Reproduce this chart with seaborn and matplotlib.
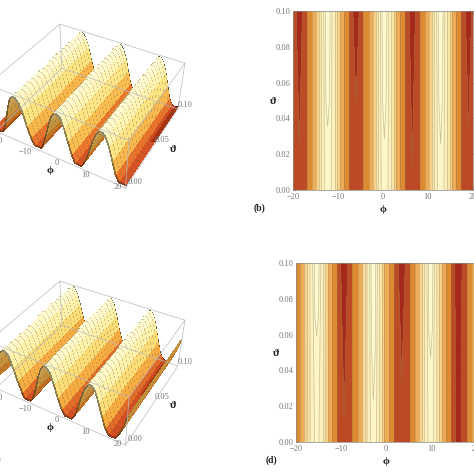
import numpy as np
import matplotlib
matplotlib.use('Agg')
import matplotlib.pyplot as plt
import seaborn as sns
from matplotlib.colors import ListedColormap, BoundaryNorm

sns.set_theme(style='ticks')
plt.rcParams['font.family'] = ['Liberation Serif', 'DejaVu Serif']

phi_b = [-20, -19.6, -18.6, -17.6, -16.6, -15.6, -14.6, -13.6, -12.7, -12.3, -11.9, -11, -10, -9, -8, -7, -6, -5, -4, -3, -2, -1, -0.1, 0.3, 0.7, 1.6, 2.5, 3.5, 4.5, 5.5, 6.5, 7.5, 8.5, 9.5, 10.5, 11.5, 12.4, 12.8, 13.2, 14, 15, 16, 17, 18, 19, 20]
z_b_bottom = [.11, .058, .056, .058, .2, .42, .68, .88, .955, .959, .955, .9, .72, .44, .2, .058, .068, .058, .2, .42, .68, .88, .955, .962, .955, .9, .74, .48, .22, .058, .053, .058, .2, .42, .68, .88, .955, .963, .955, .9, .72, .46, .2, .058, .06, .058]
z_b_top = [.11, .058, .03, .058, .2, .42, .68, .88, .985, .99, .985, .9, .72, .44, .2, .058, .03, .058, .2, .42, .68, .88, .985, .99, .985, .9, .74, .48, .22, .058, .03, .058, .2, .42, .68, .88, .985, .99, .985, .9, .72, .46, .2, .058, .03, .058]

phi_d = [-20, -19, -18, -17, -15.8, -15.4, -15, -14, -13, -12, -11, -10.3, -9.3, -8.3, -7.3, -6.3, -5.3, -4.3, -3.2, -2.8, -2.4, -1.5, -0.5, 0.5, 1.5, 2.5, 3.5, 4.5, 5.5, 6.5, 7.5, 8.5, 9.5, 9.9, 10.3, 11.2, 12.2, 13.2, 14.2, 15.1, 16.1, 17.1, 18.1, 19.1, 20]
z_d_bottom = [.2, .42, .68, .85, .935, .941, .935, .88, .66, .4, .17, .055, .053, .055, .17, .38, .64, .85, .955, .964, .955, .88, .66, .4, .17, .055, .06, .055, .17, .38, .64, .85, .945, .952, .945, .88, .66, .4, .17, .055, .04, .055, .17, .38, .62]
z_d_top = [.2, .42, .68, .85, .985, .99, .985, .88, .66, .4, .17, .055, .03, .055, .17, .38, .64, .85, .985, .99, .985, .88, .66, .4, .17, .055, .03, .055, .17, .38, .64, .85, .985, .99, .985, .88, .66, .4, .17, .055, .03, .055, .17, .38, .62]

theta_rows = [0.0, 0.1]
contour_levels = [.05, .15, .38, .62, .76, .86, .93, .97]
contour_colors = ['#a5281a', '#bc4a24', '#dd8a30', '#eeac58', '#f7d288', '#fae6a8', '#fcf0bc', '#fdf6c6', '#fef9cf']
phi_ticks = [-20, -10, 0, 10, 20]
theta_ticks = [0.0, 0.02, 0.04, 0.06, 0.08, 0.1]
mesh_thetas = [0.0, 0.005, 0.01, 0.015, 0.02, 0.025, 0.03, 0.035, 0.04, 0.045, 0.05, 0.055, 0.06, 0.065, 0.07, 0.075, 0.08, 0.085, 0.09, 0.095, 0.0992]

W = 474
fig = plt.figure(figsize=(4.74, 4.74), dpi=100)
grey = '#777777'
surf_cmap = sns.blend_palette(['#c8381c', '#ee7a2c', '#f8ae44', '#fbd060', '#fde27e', '#feee9c', '#fff6bc', '#fffbd8'], as_cmap=True)


def put(x, y, s, **kw):
    # x, y in pixels from the top left of the picture
    kw.setdefault('ha', 'center')
    kw.setdefault('va', 'center')
    kw.setdefault('fontsize', 6)
    kw.setdefault('color', grey)
    fig.text(x / W, 1 - y / W, s, **kw)


def flat_panel(left, top, phi, z0, z1, tag, tag_x):
    ax = fig.add_axes([left / W, 1 - (top + 179) / W, 180 / W, 179 / W])
    Z = np.array([z0, z1])
    cmap = ListedColormap(contour_colors)
    lv = [-1] + contour_levels + [2]
    ax.contourf(phi, theta_rows, Z, levels=lv, cmap=cmap, norm=BoundaryNorm(lv, cmap.N))
    ax.contour(phi, theta_rows, Z, levels=contour_levels, colors='#8a7a50', linewidths=0.5, alpha=0.45)
    ax.set_xlim(-20, 20)
    ax.set_ylim(0, 0.1)
    ax.set_xticks(phi_ticks)
    ax.set_yticks(theta_ticks)
    ax.set_yticklabels(['%.2f' % t for t in theta_ticks])
    ax.tick_params(direction='in', length=2, width=0.4, color='#666666', labelcolor=grey, labelsize=6, pad=2, top=True, right=True)
    for s in ax.spines.values():
        s.set_linewidth(0.5)
        s.set_color('#888888')
    put(left + 90, top + 199, 'ϕ', fontsize=8, color='#222222', fontweight='bold')
    put(left - 20, top + 90, 'ϑ', fontsize=8, color='#222222', fontweight='bold')
    put(tag_x, top + 197, tag, fontsize=7, color='#222222', fontweight='bold')
    return ax


def surface_panel(cy, phi, z0, z1):
    ax = fig.add_axes([(85 - 160) / W, 1 - (cy + 160) / W, 320 / W, 320 / W], projection='3d')
    ax.set_proj_type('persp', focal_length=0.28)
    ax.view_init(elev=40, azim=-60)
    ax.set_box_aspect((136, 115, 56), zoom=0.61)
    ax.set_axis_off()
    ax.patch.set_alpha(0)

    phi = np.array(phi)
    z0 = np.array(z0)
    z1 = np.array(z1)
    rows = []
    for m in mesh_thetas:
        rows += [m, m + 0.0007]
    rows = np.array(rows)
    Phi, Th = np.meshgrid(phi, rows)
    Z = np.where(Th < 0.05, z0, z1)

    mid = (Z[:, :-1] + Z[:, 1:]) / 2
    slope = np.diff(Z, axis=1) / np.diff(phi)
    cols = surf_cmap(mid)
    back = slope > 0.02
    # slopes turned away from the viewer are browner
    cols[..., 0] = np.where(back, cols[..., 0] * 0.78, cols[..., 0])
    cols[..., 1] = np.where(back, cols[..., 1] * 0.66, cols[..., 1])
    cols[..., 2] = np.where(back, cols[..., 2] * 0.5, cols[..., 2])
    # every second row is a thin mesh line
    line = np.arange(Z.shape[0]) % 2 == 0
    cols[line, :, :3] = cols[line, :, :3] * 0.7 + np.array([.38, .36, .28]) * 0.3
    cols[0, :, :3] *= 0.7
    cols[-2, :, :3] *= 0.5
    fc = np.ones(Z.shape + (4,))
    fc[:, :-1] = cols
    ax.plot_surface(Phi, Th, Z, facecolors=fc, rstride=1, cstride=1, shade=False, linewidth=0, antialiased=False)

    # bounding box
    xs, ys, zs = (-20, 20), (0, 0.1), (0, 1.02)
    for a in xs:
        for b in ys:
            ax.plot([a, a], [b, b], zs, color='#bbbbbb', lw=0.5)
    for a in xs:
        for c in zs:
            ax.plot([a, a], ys, [c, c], color='#bbbbbb', lw=0.5)
    for b in ys:
        for c in zs:
            ax.plot(xs, [b, b], [c, c], color='#bbbbbb', lw=0.5)
    ax.set_xlim(-20, 20)
    ax.set_ylim(0, 0.1)
    ax.set_zlim(0, 1.02)
    return ax


surface_panel(102, phi_b, z_b_bottom, z_b_top)
surface_panel(359, phi_d, z_d_bottom, z_d_top)

flat_panel(293, 11, phi_b, z_b_bottom, z_b_top, '(b)', 259)
flat_panel(296, 263, phi_d, z_d_bottom, z_d_top, '(d)', 271)

for dy in (0, 257):
    put(0, 141 + dy, '0')
    put(25, 152 + dy, '−10')
    put(57, 163 + dy, '0')
    put(85, 175 + dy, '10')
    put(118, 187 + dy, '20')
    put(135, 182 + dy, '0.00')
    put(162, 140 + dy, '0.05')
    put(185, 105 + dy, '0.10')
    put(50, 171 + dy, 'ϕ', fontsize=8, color='#222222', fontweight='bold')
    put(173, 149 + dy, 'ϑ', fontsize=8, color='#222222', fontweight='bold')
put(-4, 459, '(c)', fontsize=7, color='#222222', fontweight='bold')

fig.savefig('out.png', dpi=100, facecolor='white')
